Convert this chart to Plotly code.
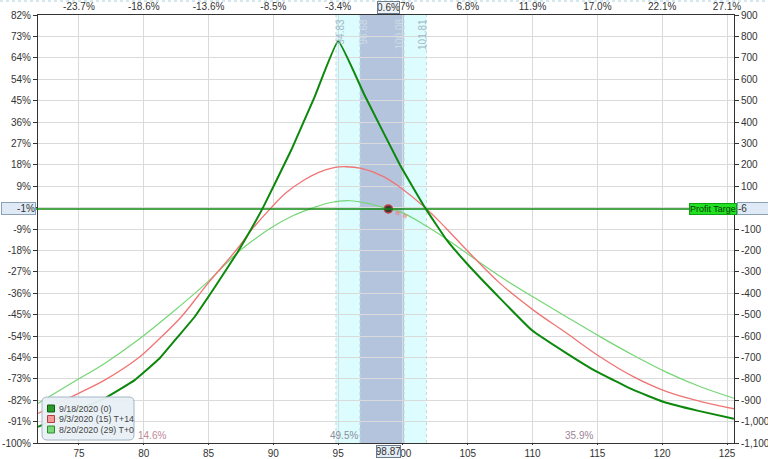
import plotly.graph_objects as go

# --- data --------------------------------------------------------------------
# expiration curve 9/18/2020 (0)
exp_x = [71.84, 74.5, 76.98, 79.30, 81.23, 82.64, 83.93, 85.5, 87.19, 88.29, 89.2,
         91.38, 93.2, 95.0, 97.0, 99.77, 101.7, 103.37, 104.91, 107.49, 109.93,
         112.63, 114.95, 117.77, 120.08, 122.8, 125.54]
exp_y = [-1024, -955, -891, -806, -704, -603, -510, -370, -213, -100, 0,
         269, 520, 778, 530, 199, 0, -151, -260, -424, -572,
         -681, -767, -852, -907, -950, -987]

# 9/3/2020 (15) T+14
t14_x = [71.84, 74.41, 76.98, 79.55, 81.1, 82.9, 84.95, 87.14, 88.3, 89.84, 91.0,
         92.4, 93.5, 94.6, 95.6, 96.8, 98.5, 99.77, 101.7, 103.3, 104.91, 107.49,
         110.06, 112.63, 115.2, 117.77, 120.35, 122.9, 125.54]
t14_y = [-962, -884, -806, -704, -619, -510, -354, -198, -105, 0, 70,
         130, 165, 186, 191, 183, 145, 95, 0, -95, -198, -354,
         -479, -587, -697, -790, -860, -905, -940]

# 8/20/2020 (29) T+0
t0_x = [71.84, 74.41, 76.98, 79.55, 82.12, 84.95, 87.19, 88.5, 89.8, 91.5, 93.1,
        94.5, 95.9, 97.4, 98.87, 99.77, 101.5, 103.1, 106.2, 108.1, 110.06, 112.6,
        115.2, 117.77, 120.35, 122.9, 125.54]
t0_y = [-915, -821, -728, -619, -494, -346, -213, -150, -95, -38, 0,
        25, 32, 18, -6, -19, -75, -136, -268, -345, -418, -510,
        -603, -690, -770, -836, -891]

series_names = ["9/18/2020 (0)", "9/3/2020 (15) T+14", "8/20/2020 (29) T+0"]

price_ticks = [75, 80, 85, 90, 95, 100, 105, 110, 115, 120, 125]
pct_move_labels = ["-23.7%", "-18.6%", "-13.6%", "-8.5%", "-3.4%", "1.7%",
                   "6.8%", "11.9%", "17.0%", "22.1%", "27.1%"]

pnl_ticks = [900, 800, 700, 600, 500, 400, 300, 200, 100, 0, -100, -200, -300,
             -400, -500, -600, -700, -800, -900, -1000, -1100]
pnl_labels = ["900", "800", "700", "600", "500", "400", "300", "200", "100", "",
              "-100", "-200", "-300", "-400", "-500", "-600", "-700", "-800",
              "-900", "-1,000", "-1,100"]
pnl_pct_labels = ["82%", "73%", "64%", "54%", "45%", "36%", "27%", "18%", "9%", "",
                  "-9%", "-18%", "-27%", "-36%", "-45%", "-54%", "-64%", "-73%",
                  "-82%", "-91%", "-100%"]

outer_band = [94.83, 101.81]
inner_band = [96.68, 100.08]
current_price = 98.87
current_pnl = -6
current_pct = "0.6%"
current_pnl_pct = "-1%"
profit_target = -6

prob_x = [80.6, 95.47, 113.6]
prob_text = ["14.6%", "49.5%", "35.9%"]
prob_colors = ["#c08898", "#8c8c9c", "#9c8494"]

# --- layout helpers (pixel -> paper) ----------------------------------------
L, R, T, B = 38, 734, 15, 443
def px(x):
    return (x - L) / (R - L)
def py(y):
    return (B - y) / (B - T)

FONT = "Liberation Sans, Arial, sans-serif"
TXT = "#333333"

fig = go.Figure()

fig.add_trace(go.Scatter(x=t0_x, y=t0_y, mode="lines", name=series_names[2],
                         line=dict(color="#74d674", width=1.2, shape="spline", smoothing=1.0),
                         showlegend=False))
fig.add_trace(go.Scatter(x=t14_x, y=t14_y, mode="lines", name=series_names[1],
                         line=dict(color="#f07474", width=1.3, shape="spline", smoothing=1.0),
                         showlegend=False))
fig.add_trace(go.Scatter(x=exp_x, y=exp_y, mode="lines", name=series_names[0],
                         line=dict(color="#0c880c", width=2, shape="spline", smoothing=0.3),
                         showlegend=False))

# little pink hatch + current position marker
fig.add_trace(go.Scatter(x=[current_price, 100.3], y=[current_pnl - 2, -42], mode="lines",
                         line=dict(color="rgba(240,128,128,0.6)", width=4, dash="dot"),
                         showlegend=False, hoverinfo="skip"))
fig.add_trace(go.Scatter(x=[current_price], y=[current_pnl], mode="markers",
                         marker=dict(size=8, color="#3a3a3a", line=dict(color="#c04040", width=1.5)),
                         showlegend=False))

# invisible traces to activate the top and right axes
fig.add_trace(go.Scatter(x=[price_ticks[0]], y=[0], xaxis="x2", mode="markers",
                         marker=dict(opacity=0), showlegend=False, hoverinfo="skip"))
fig.add_trace(go.Scatter(x=[price_ticks[0]], y=[0], yaxis="y2", mode="markers",
                         marker=dict(opacity=0), showlegend=False, hoverinfo="skip"))

shapes = []
# shaded bands
shapes.append(dict(type="rect", xref="x", yref="paper", x0=outer_band[0], x1=outer_band[1],
                   y0=0, y1=1, fillcolor="#dcfcfd", line=dict(width=0), layer="below"))
shapes.append(dict(type="rect", xref="x", yref="paper", x0=inner_band[0], x1=inner_band[1],
                   y0=0, y1=1, fillcolor="#b3c4dc", line=dict(width=0), layer="below"))
for xv in outer_band + inner_band:
    shapes.append(dict(type="line", xref="x", yref="paper", x0=xv, x1=xv, y0=0, y1=1,
                       line=dict(color="#b8dde4", width=1, dash="dot"), layer="below"))
# profit target line
shapes.append(dict(type="line", xref="paper", yref="y", x0=px(2), x1=1, y0=profit_target,
                   y1=profit_target, line=dict(color="#118811", width=1.5)))
# dotted top border
shapes.append(dict(type="line", xref="paper", yref="paper", x0=px(0), x1=px(768), y0=py(1), y1=py(1),
                   line=dict(color="#a8d0dc", width=1, dash="dot")))

# legend box (rounded)
x0, x1, y0, y1 = px(42), px(134), py(440), py(397)
rx, ry = 5 / (R - L), 5 / (B - T)
path = (f"M {x0+rx},{y0} L {x1-rx},{y0} Q {x1},{y0} {x1},{y0+ry} L {x1},{y1-ry} "
        f"Q {x1},{y1} {x1-rx},{y1} L {x0+rx},{y1} Q {x0},{y1} {x0},{y1-ry} "
        f"L {x0},{y0+ry} Q {x0},{y0} {x0+rx},{y0} Z")
shapes.append(dict(type="path", xref="paper", yref="paper", path=path,
                   fillcolor="rgba(233,240,246,0.95)", line=dict(color="#a4b6c6", width=1)))
legend_rows = [408.5, 419, 429.5]
legend_fill = ["#2a9a2a", "#f49a9a", "#7ad87a"]
legend_edge = ["#0c600c", "#b04040", "#2c8c2c"]
annotations = []
for i, yy in enumerate(legend_rows):
    shapes.append(dict(type="rect", xref="paper", yref="paper", x0=px(47.5), x1=px(54.5),
                       y0=py(yy + 3.5), y1=py(yy - 3.5), fillcolor=legend_fill[i],
                       line=dict(color=legend_edge[i], width=1)))
    annotations.append(dict(xref="paper", yref="paper", x=px(57), y=py(yy), xanchor="left",
                            yanchor="middle", text=series_names[i], showarrow=False,
                            font=dict(family=FONT, size=8.8, color="#444444")))

# band labels at the top (lighter on the dark inner band)
band_vals = [outer_band[0], inner_band[0], inner_band[1], outer_band[1]]
band_shift = [5, 4, -5, -4]
band_color = ["#a2b8c8", "#cfdbe8", "#cfdbe8", "#a2b8c8"]
for xv, sh, col in zip(band_vals, band_shift, band_color):
    annotations.append(dict(xref="x", yref="paper", x=xv, y=1, xshift=sh, yshift=-2,
                            xanchor="center", yanchor="top", textangle=-90,
                            text=f"{xv:.2f}", showarrow=False,
                            font=dict(family=FONT, size=10, color=col)))

# probability labels
for xv, tx, col in zip(prob_x, prob_text, prob_colors):
    annotations.append(dict(xref="x", yref="paper", x=xv, y=py(435), text=tx, showarrow=False,
                            xanchor="center", yanchor="middle",
                            font=dict(family=FONT, size=10, color=col)))

# boxed current-value labels
box_font = dict(family=FONT, size=10, color=TXT)
annotations.append(dict(xref="paper", yref="y", x=px(1), y=current_pnl, xanchor="left",
                        yanchor="middle", text=current_pnl_pct, showarrow=False, width=33,
                        height=11, align="right", bgcolor="#dfeaf6", bordercolor="#8aa0b4",
                        borderwidth=1, borderpad=0, font=box_font))
annotations.append(dict(xref="paper", yref="y", x=px(737), y=current_pnl, xanchor="left",
                        yanchor="middle", text=str(current_pnl), showarrow=False, width=30,
                        height=11, align="left", bgcolor="#dfeaf6", bordercolor="#8aa0b4",
                        borderwidth=1, borderpad=0, font=box_font))
annotations.append(dict(xref="paper", yref="y", x=px(689), y=current_pnl, xanchor="left",
                        yanchor="middle", text="Profit Targe", showarrow=False, width=46,
                        height=10, align="left", bgcolor="#22e022", bordercolor="#10a010",
                        borderwidth=1, borderpad=0,
                        font=dict(family=FONT, size=9, color="#0a3a0a")))
annotations.append(dict(xref="x", yref="paper", x=current_price, y=py(7), xanchor="center",
                        yanchor="middle", text=current_pct, showarrow=False, width=21,
                        height=11, bgcolor="#eef2f6", bordercolor="#6a7c8c",
                        borderwidth=1, borderpad=0, font=box_font))
annotations.append(dict(xref="x", yref="paper", x=current_price, y=py(452), xanchor="center",
                        yanchor="middle", text=f"{current_price:.2f}", showarrow=False, width=23,
                        height=11, bgcolor="#e4ecf4", bordercolor="#6a7c8c",
                        borderwidth=1, borderpad=0, font=box_font))

tick_font = dict(family=FONT, size=10, color=TXT)
x_range = [71.84, 125.54]
y_range = [-1100, 900]
axis_common = dict(zeroline=False, showline=True, linecolor="#333333", linewidth=1,
                   ticks="outside", tickcolor="#333333", tickfont=tick_font, automargin=False)

fig.update_layout(
    width=768, height=459,
    margin=dict(l=L, r=768 - R, t=T, b=459 - B, autoexpand=False),
    paper_bgcolor="white", plot_bgcolor="white",
    showlegend=False,
    xaxis=dict(range=x_range, tickvals=price_ticks, ticktext=[str(v) for v in price_ticks],
               showgrid=True, gridcolor="#dadada", gridwidth=1, ticklen=1, **axis_common),
    xaxis2=dict(range=x_range, overlaying="x", side="top", tickvals=price_ticks,
                ticktext=pct_move_labels, showgrid=False, ticklen=0.1, **axis_common),
    yaxis=dict(range=y_range, tickvals=pnl_ticks, ticktext=pnl_pct_labels,
               showgrid=True, gridcolor="#dadada", gridwidth=1, ticklen=4, **axis_common),
    yaxis2=dict(range=y_range, overlaying="y", side="right", tickvals=pnl_ticks,
                ticktext=pnl_labels, showgrid=False, ticklen=4, **axis_common),
    shapes=shapes,
    annotations=annotations,
)

# page body has a default 8px margin; drop it so the figure sits at the window origin
fig.write_html("out.html", config={"displayModeBar": False},
               post_script="document.body.style.margin='0';")
